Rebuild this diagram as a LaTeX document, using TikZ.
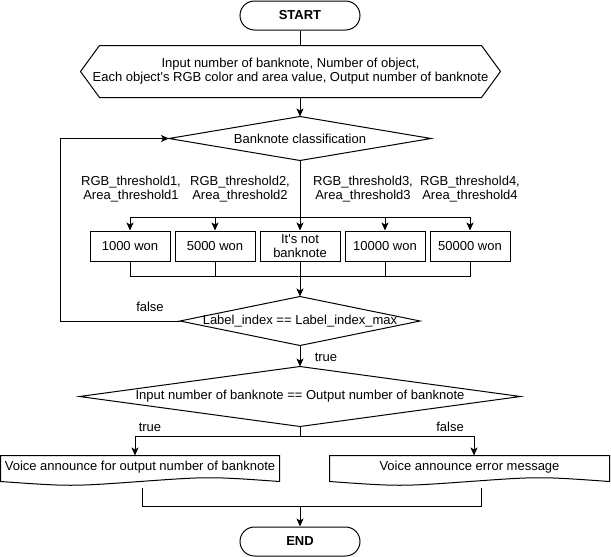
\documentclass[tikz,border=0pt]{standalone}
\usepackage{fontspec}
\setmainfont{Liberation Sans}[Ligatures=TeXOff]
\usetikzlibrary{arrows.meta,calc}
\begin{document}
\begin{tikzpicture}[x=1pt,y=-1pt, font=\fontsize{13}{14}\selectfont,
  line width=1pt,
  arr/.style={-{Stealth[length=8pt,width=7pt,inset=2pt]}},
  term/.style={draw, rounded corners=14.5pt, minimum width=120pt, minimum height=29pt, inner sep=0pt, font=\fontsize{13}{14}\selectfont\bfseries},
  box/.style={draw, minimum width=80pt, minimum height=30pt, inner sep=0pt, align=center},
  shp/.style={inner sep=0pt, align=center},
  lab/.style={inner sep=0pt, align=center}]
\useasboundingbox (0,0) rectangle (611,557);

% terminals
\node[term] (start) at (300,15.5) {START};
\node[term] (end) at (300,541.5) {END};

% input hexagon
\node[shp, minimum width=419pt, minimum height=51pt] (inp) at (290.5,71.5)
  {Input number of banknote, Number of object,\\Each object's RGB color and area value, Output number of banknote};
\draw ([xshift=19pt]inp.north west) -- ([xshift=-19pt]inp.north east) -- (inp.east)
  -- ([xshift=-19pt]inp.south east) -- ([xshift=19pt]inp.south west) -- (inp.west) -- cycle;

% decision: classification
\node[shp, minimum width=261pt, minimum height=43pt] (cls) at (300,138.5) {Banknote classification};
\draw (cls.north) -- (cls.east) -- (cls.south) -- (cls.west) -- cycle;

% threshold labels
\node[lab] (r1) at (131,189.5) {RGB\_threshold1,\\Area\_threshold1};
\node[lab] (r2) at (240,189.5) {RGB\_threshold2,\\Area\_threshold2};
\node[lab] (r3) at (363,189.5) {RGB\_threshold3,\\Area\_threshold3};
\node[lab] (r4) at (470,189.5) {RGB\_threshold4,\\Area\_threshold4};

% banknote boxes
\node[box] (b1) at (130,246) {1000 won};
\node[box] (b2) at (215,246) {5000 won};
\node[box] (b3) at (300,246) {It's not\\banknote};
\node[box] (b4) at (385,246) {10000 won};
\node[box] (b5) at (470,246) {50000 won};

% decision: label index
\node[shp, minimum width=239pt, minimum height=48pt] (lbl) at (300,321) {Label\_index == Label\_index\_max};
\draw (lbl.north) -- (lbl.east) -- (lbl.south) -- (lbl.west) -- cycle;

% decision: compare
\node[shp, minimum width=440pt, minimum height=59pt] (cmp) at (300,396.5) {Input number of banknote == Output number of banknote};
\draw (cmp.north) -- (cmp.east) -- (cmp.south) -- (cmp.west) -- cycle;

% documents
\node[shp, minimum width=278pt, minimum height=22pt] (d1) at (140,467) {Voice announce for output number of banknote};
\draw (d1.north west) -- (d1.north east) -- ($(d1.south east)+(0,3)$)
  .. controls ($(d1.south)+(69.5,-2)$) .. ($(d1.south)+(0,3)$)
  .. controls ($(d1.south)+(-69.5,8)$) .. ($(d1.south west)+(0,3)$) -- cycle;
\node[shp, minimum width=279pt, minimum height=22pt] (d2) at (469.5,467) {Voice announce error message};
\draw (d2.north west) -- (d2.north east) -- ($(d2.south east)+(0,3)$)
  .. controls ($(d2.south)+(69.75,-2)$) .. ($(d2.south)+(0,3)$)
  .. controls ($(d2.south)+(-69.75,8)$) .. ($(d2.south west)+(0,3)$) -- cycle;

% branch labels
\node[lab] (f1) at (150,307) {false};
\node[lab] (t1) at (326,357) {true};
\node[lab] (t2) at (150,427) {true};
\node[lab] (f2) at (450,427) {false};

% connectors
\draw (start.south) -- (start.south |- inp.north);
\draw[arr] (start.south |- inp.south) -- (cls.north);

\coordinate (s1) at (300,217);
\draw[arr] (cls.south) -- (b3.north);
\draw[arr] (s1) -| (b1.north);
\draw[arr] (s1) -| (b2.north);
\draw[arr] (s1) -| (b4.north);
\draw[arr] (s1) -| (b5.north);

\coordinate (m1) at (300,276);
\draw (b1.south) |- (m1);
\draw (b2.south) |- (m1);
\draw (b4.south) |- (m1);
\draw (b5.south) |- (m1);
\draw[arr] (b3.south) -- (lbl.north);

\coordinate (lc) at (60,321);
\draw[arr] (lbl.west) -- (lc) |- (cls.west);

\draw[arr] (lbl.south) -- (cmp.north);

\coordinate (s2) at (300,436);
\draw (cmp.south) -- (s2);
\draw[arr] (s2) -| ([xshift=-5pt]d1.north);
\draw[arr] (s2) -| ([xshift=4.5pt]d2.north);

\coordinate (m2) at (300,506);
\draw ([shift={(2,9)}]d1.south) |- (m2);
\draw ([shift={(11.5,9)}]d2.south) |- (m2);
\draw[arr] (m2) -- (end.north);
\end{tikzpicture}
\end{document}
